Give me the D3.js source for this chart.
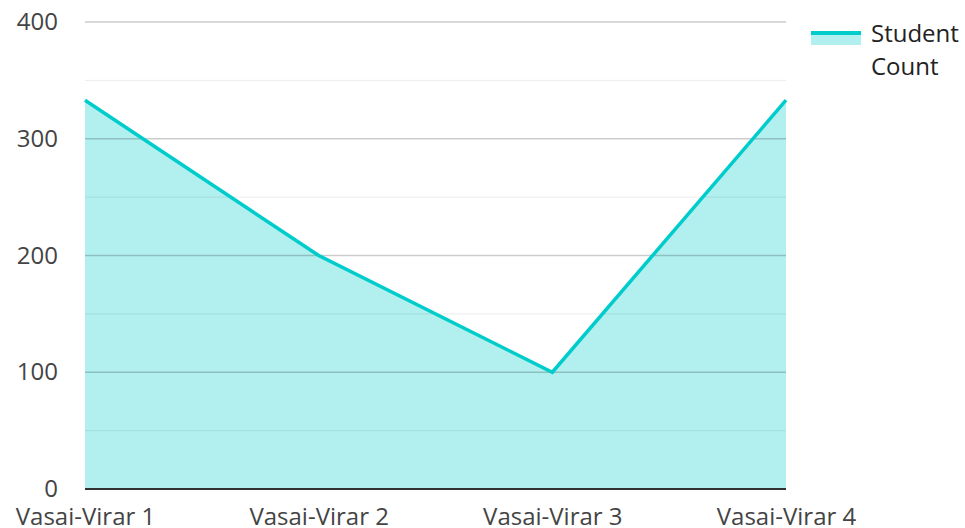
<!DOCTYPE html>
<html>
<head>
<meta charset="utf-8">
<script src="https://cdn.jsdelivr.net/npm/d3@7"></script>
<style>
  body { margin: 0; background: #fff; }
  text { font-family: "Open Sans", "Noto Sans", sans-serif; }
</style>
</head>
<body>
<div id="wrapper"></div>
<script>
const categories = ["Vasai-Virar 1", "Vasai-Virar 2", "Vasai-Virar 3", "Vasai-Virar 4"];
const studentCount = [333, 200, 100, 333];
const yTicks = [0, 100, 200, 300, 400];
const seriesName = ["Student", "Count"];

const dimensions = {
  width: 965,
  height: 528,
  margin: { top: 22, right: 179, bottom: 39, left: 85 },
};
dimensions.boundWidth = dimensions.width - dimensions.margin.left - dimensions.margin.right;
dimensions.boundHeight = dimensions.height - dimensions.margin.top - dimensions.margin.bottom;

const svg = d3.select("#wrapper").append("svg")
  .attr("width", dimensions.width)
  .attr("height", dimensions.height);
const bounds = svg.append("g")
  .attr("transform", `translate(${dimensions.margin.left},${dimensions.margin.top})`);

const xScale = d3.scalePoint()
  .domain(categories)
  .range([0, dimensions.boundWidth]);
const yScale = d3.scaleLinear()
  .domain([0, 400])
  .range([dimensions.boundHeight, 0]);

const data = categories.map((c, i) => ({ cat: c, value: studentCount[i] }));

// area fill
const area = d3.area()
  .x(d => xScale(d.cat))
  .y0(yScale(0))
  .y1(d => yScale(d.value));
bounds.append("path")
  .datum(data)
  .attr("d", area)
  .attr("fill", "#b2efef");

// gridlines over the fill
const minor = d3.range(50, 400, 100);
bounds.append("g").selectAll("line")
  .data(minor)
  .join("line")
  .attr("x1", 0).attr("x2", dimensions.boundWidth)
  .attr("y1", d => yScale(d)).attr("y2", d => yScale(d))
  .attr("stroke", "#000").attr("stroke-opacity", 0.08);
bounds.append("g").selectAll("line")
  .data(yTicks.filter(d => d > 0))
  .join("line")
  .attr("x1", 0).attr("x2", dimensions.boundWidth)
  .attr("y1", d => yScale(d)).attr("y2", d => yScale(d))
  .attr("stroke", "#000").attr("stroke-opacity", 0.2)
  .attr("stroke-width", 1.5);

const line = d3.line()
  .x(d => xScale(d.cat))
  .y(d => yScale(d.value));
bounds.append("path")
  .datum(data)
  .attr("d", line)
  .attr("fill", "none")
  .attr("stroke", "#00cccc")
  .attr("stroke-width", 3.5)
  .attr("stroke-linejoin", "miter");

// baseline
bounds.append("line")
  .attr("x1", 0).attr("x2", dimensions.boundWidth)
  .attr("y1", yScale(0)).attr("y2", yScale(0))
  .attr("stroke", "#333").attr("stroke-width", 2);

// y axis
const yAxis = bounds.append("g")
  .call(d3.axisLeft(yScale).tickValues(yTicks).tickSize(0).tickPadding(27));
yAxis.select(".domain").remove();
yAxis.selectAll("text")
  .attr("fill", "#444")
  .style("font-size", "24px");

// x axis
const xAxis = bounds.append("g")
  .attr("transform", `translate(0,${dimensions.boundHeight})`)
  .call(d3.axisBottom(xScale).tickSize(0).tickPadding(0));
xAxis.select(".domain").remove();
xAxis.selectAll("text")
  .attr("fill", "#444")
  .attr("dy", null)
  .attr("y", 36)
  .style("font-size", "24px")
  .each(function () {
    const t = d3.select(this);
    const bb = this.getBBox();
    const tx = xScale(t.datum());
    const left = dimensions.margin.left + tx - bb.width / 2;
    if (left < 10) t.attr("dx", 10 - left);
  });

// legend
const legend = svg.append("g").attr("transform", "translate(811,0)");
legend.append("rect")
  .attr("x", 0).attr("y", 34).attr("width", 50).attr("height", 11)
  .attr("fill", "#b2efef");
legend.append("line")
  .attr("x1", 0).attr("x2", 50).attr("y1", 33).attr("y2", 33)
  .attr("stroke", "#00cccc").attr("stroke-width", 4);
legend.append("text")
  .attr("x", 60).attr("y", 42)
  .attr("fill", "#222")
  .style("font-size", "24px")
  .selectAll("tspan")
  .data(seriesName)
  .join("tspan")
  .attr("x", 60)
  .attr("dy", (d, i) => i === 0 ? 0 : 33)
  .text(d => d);
</script>
</body>
</html>
